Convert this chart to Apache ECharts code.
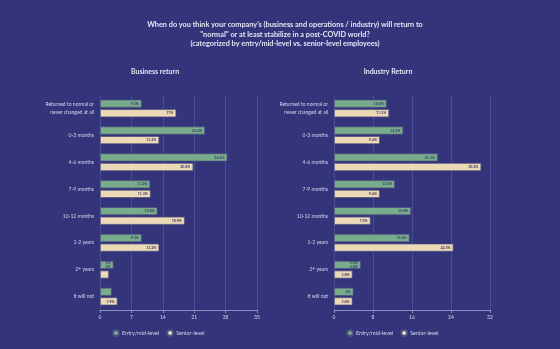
<!DOCTYPE html>
<html><head><meta charset="utf-8">
<script src="https://cdn.jsdelivr.net/npm/echarts@6/dist/echarts.min.js"></script>
<style>html,body{margin:0;padding:0;background:#33347a;}#c{width:560px;height:349px;}</style>
</head><body><div id="c"></div>
<script>
const categories = ['Returned to normal or\nnever changed at all','0-3 months','4-6 months','7-9 months','10-12 months','1-2 years','2+ years','It will not'];
const bizEntry = [9.3, 23.4, 28.4, 11.2, 12.8, 9.3, 3.0, 2.6];
const bizSenior = [17, 13.2, 20.8, 11.3, 18.9, 13.2, 2.0, 3.9];
const bizEntryLabels = ['9.3%','23.4%','28.4%','11.2%','12.8%','9.3%','1%\n2%',''];
const bizSeniorLabels = ['17%','13.2%','20.8%','11.3%','18.9%','13.2%','','3.9%'];
const indEntry = [10.8, 14.2, 21.3, 12.5, 15.8, 15.5, 5.5, 4.0];
const indSenior = [11.3, 9.4, 30.2, 9.4, 7.5, 24.5, 3.8, 3.8];
const indEntryLabels = ['10.8%','14.2%','21.3%','12.5%','15.8%','15.5%','5.5%\n5.8%','4%'];
const indSeniorLabels = ['11.3%','9.4%','30.2%','9.4%','7.5%','24.5%','3.8%','3.8%'];
const seriesNames = ['Entry/mid-level','Senior-level'];

const FONT = 'Lato, "Open Sans", sans-serif';
const GREEN = '#79ac8a', BEIGE = '#ecd9b6';
const chart = echarts.init(document.getElementById('c'), null, {renderer:'canvas'});

function xAx(idx, max, interval){
  return {gridIndex: idx, type:'value', min:0, max:max, interval:interval,
    axisLine:{show:true, lineStyle:{color:'#8d8ec4', width:1}},
    axisTick:{show:true, length:3, lineStyle:{color:'#8d8ec4'}},
    axisLabel:{color:'#d6d6ec', fontSize:5, fontFamily:FONT, margin:5},
    splitLine:{show:true, lineStyle:{color:'#4a4c96', width:1}}};
}
function yAx(idx){
  return {gridIndex: idx, type:'category', data:categories, inverse:true,
    axisLine:{show:false}, axisTick:{show:false},
    axisLabel:{color:'#d6d6ec', fontSize:5, fontFamily:FONT, margin:6, lineHeight:7.5}};
}
function bar(name, idx, data, labels, color){
  return {name:name, type:'bar', xAxisIndex:idx, yAxisIndex:idx,
    data:data, barWidth:8, barGap:'20%',
    itemStyle:{color:color, borderColor:'#4d4d85', borderWidth:0.7},
    label:{show:true, position:'insideRight', distance:3, color:'#3b3b6e', fontSize:3.6, fontFamily:FONT, fontWeight:'bold', lineHeight:4.2,
      formatter:p=>labels[p.dataIndex]}};
}
chart.setOption({
  backgroundColor:'#33347a',
  animation:false,
  title:[
    {text:"When do you think your company's (business and operations / industry) will return to\n\"normal\" or at least stabilize in a post-COVID world?\n(categorized by entry/mid-level vs. senior-level employees)",
     left:280, top:15, textAlign:'center', textStyle:{color:'#e4e4f4', fontSize:7.3, fontWeight:'bold', fontFamily:FONT, lineHeight:9.5, align:'center'}},
    {text:'Business return', left:150, top:63, textAlign:'center', textStyle:{color:'#e4e4f4', fontSize:7, fontWeight:'bold', fontFamily:FONT}},
    {text:'Industry Return', left:383, top:63, textAlign:'center', textStyle:{color:'#e4e4f4', fontSize:7, fontWeight:'bold', fontFamily:FONT}}
  ],
  legend:[
    {data:seriesNames, left:107, top:324, itemWidth:6, itemHeight:6, itemGap:7, icon:'circle',
     textStyle:{color:'#d6d6ec', fontSize:5.5, fontFamily:FONT, padding:[0,0,0,-2]}},
    {data:seriesNames, left:341, top:324, itemWidth:6, itemHeight:6, itemGap:7, icon:'circle',
     textStyle:{color:'#d6d6ec', fontSize:5.5, fontFamily:FONT, padding:[0,0,0,-2]}}
  ],
  grid:[
    {left:100, width:157, top:95, height:215},
    {left:334, width:156, top:95, height:215}
  ],
  xAxis:[xAx(0,35,7), xAx(1,32,8)],
  yAxis:[yAx(0), yAx(1)],
  series:[
    bar(seriesNames[0],0,bizEntry,bizEntryLabels,GREEN),
    bar(seriesNames[1],0,bizSenior,bizSeniorLabels,BEIGE),
    bar(seriesNames[0],1,indEntry,indEntryLabels,GREEN),
    bar(seriesNames[1],1,indSenior,indSeniorLabels,BEIGE)
  ]
});
</script></body></html>
